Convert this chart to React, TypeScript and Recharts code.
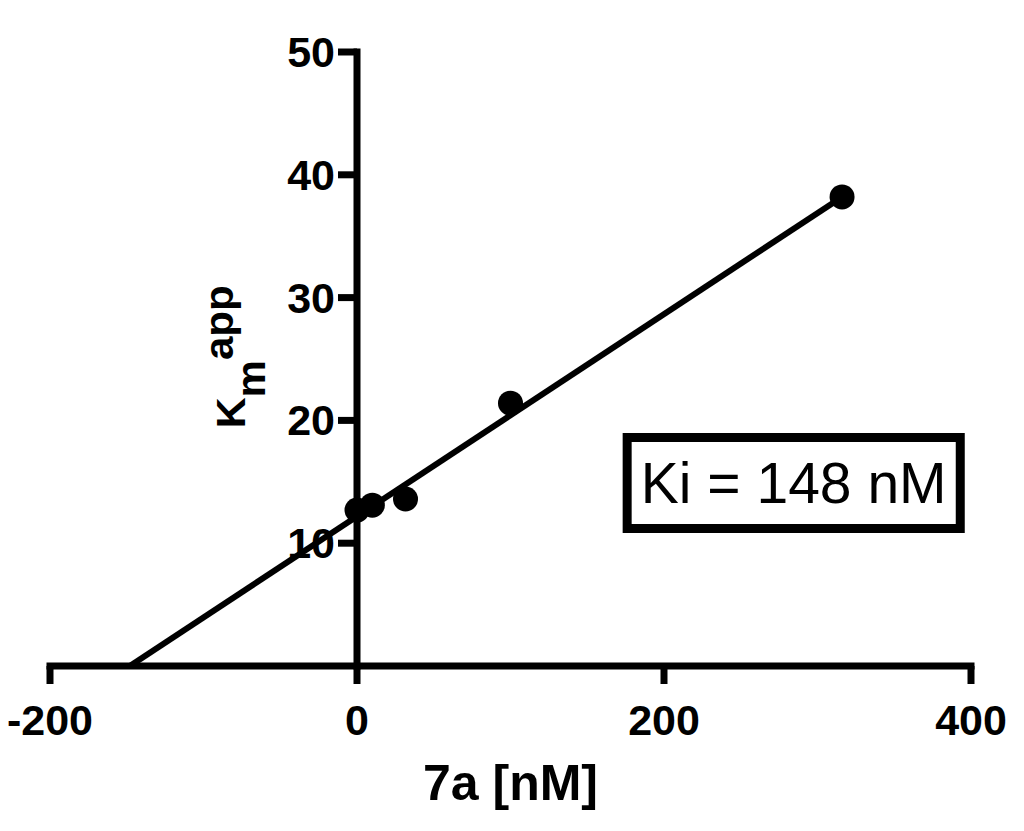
import React from "react"
import {
    ComposedChart,
    Scatter,
    XAxis,
    YAxis,
    ReferenceLine,
    ReferenceArea
} from "recharts"

// measured values
const concentration = [0, 10, 31.6, 100, 316]
const kmApp = [12.7, 13.1, 13.6, 21.4, 38.2]

// linear fit, x-intercept = -Ki
const fitX = [-148, 316]
const fitY = [0, 38.2]

const xTicks = [-200, 0, 200, 400]
const yTicks = [10, 20, 30, 40, 50]
const X_DOMAIN = [-200, 400]
const Y_DOMAIN = [0, 50]

const kiText = "Ki = 148 nM"
const xTitle = "7a [nM]"

const W = 1024
const H = 831
const Y_AXIS_W = 2
const MARGIN = { top: 52, right: 53, left: 50 - Y_AXIS_W, bottom: 30 }
const X_AXIS_H = 135
const PLOT_LEFT = MARGIN.left + Y_AXIS_W
const PLOT_W = W - PLOT_LEFT - MARGIN.right
const PLOT_H = H - MARGIN.top - MARGIN.bottom - X_AXIS_H
// y axis sits at x = 0, not on the left edge
const Y_AXIS_X =
    PLOT_LEFT + ((0 - X_DOMAIN[0]) / (X_DOMAIN[1] - X_DOMAIN[0])) * PLOT_W

const FONT = "'Liberation Sans', Arial, Helvetica, sans-serif"

const points = concentration.map((x, i) => ({ x, y: kmApp[i] }))
const fitLine = fitX.map((x, i) => ({ x, y: fitY[i] }))

const YTick = ({ y, payload }: any) => (
    <g>
        <line
            x1={Y_AXIS_X - 19}
            x2={Y_AXIS_X}
            y1={y}
            y2={y}
            stroke="#000"
            strokeWidth={7}
        />
        <text
            x={Y_AXIS_X - 22}
            y={y}
            dy="0.35em"
            textAnchor="end"
            fontFamily={FONT}
            fontWeight="bold"
            fontSize={43}
            fill="#000"
        >
            {payload.value}
        </text>
    </g>
)

const YTitle = () => (
    <text
        transform={`translate(${Y_AXIS_X - 112}, ${MARGIN.top + PLOT_H / 2 - 2}) rotate(-90) scale(1.05, 1)`}
        textAnchor="middle"
        fontFamily={FONT}
        fontWeight="bold"
        fill="#000"
    >
        <tspan fontSize={41}>K</tspan>
        <tspan fontSize={40} dy={20}>m</tspan>
        <tspan fontSize={40} dy={-32}>app</tspan>
    </text>
)

const XTitle = () => (
    <text
        x={PLOT_LEFT + PLOT_W / 2}
        y={MARGIN.top + PLOT_H + 134}
        textAnchor="middle"
        fontFamily={FONT}
        fontWeight="bold"
        fontSize={50}
        fill="#000"
    >
        {xTitle}
    </text>
)

const Dot = (props: any) => (
    <circle cx={props.cx} cy={props.cy} r={12.5} fill="#000" />
)

export default function App() {
    return (
        <div style={{ position: "absolute", left: 0, top: 0, background: "#fff" }}>
            <ComposedChart width={W} height={H} margin={MARGIN}>

                <XAxis
                    type="number"
                    dataKey="x"
                    domain={X_DOMAIN}
                    ticks={xTicks}
                    height={X_AXIS_H}
                    axisLine={{ stroke: "#000", strokeWidth: 7, strokeLinecap: "square" }}
                    tickLine={{ stroke: "#000", strokeWidth: 7 }}
                    tickSize={18}
                    tickMargin={20}
                    tick={{ fill: "#000", fontSize: 43, fontWeight: "bold", fontFamily: FONT }}
                    label={() => <XTitle />}
                />

                <YAxis
                    type="number"
                    dataKey="y"
                    domain={Y_DOMAIN}
                    ticks={yTicks}
                    width={Y_AXIS_W}
                    axisLine={false}
                    tickLine={false}
                    tick={(p: any) => <YTick {...p} />}
                    label={() => <YTitle />}
                />

                <ReferenceLine
                    x={0}
                    stroke="#000"
                    strokeWidth={7}
                    strokeLinecap="square"
                />

                <Scatter
                    data={fitLine}
                    line={{ stroke: "#000", strokeWidth: 6 }}
                    shape={() => <g />}
                    isAnimationActive={false}
                />

                <Scatter
                    data={points}
                    shape={(p: any) => <Dot {...p} />}
                    isAnimationActive={false}
                />

                <ReferenceArea
                    x1={176}
                    x2={393}
                    y1={11.2}
                    y2={18.6}
                    fill="#fff"
                    fillOpacity={1}
                    stroke="#000"
                    strokeWidth={9}
                    label={{
                        value: kiText,
                        position: "center",
                        fontSize: 57,
                        fill: "#000",
                        fontFamily: FONT
                    }}
                />

            </ComposedChart>
        </div>
    )
}
